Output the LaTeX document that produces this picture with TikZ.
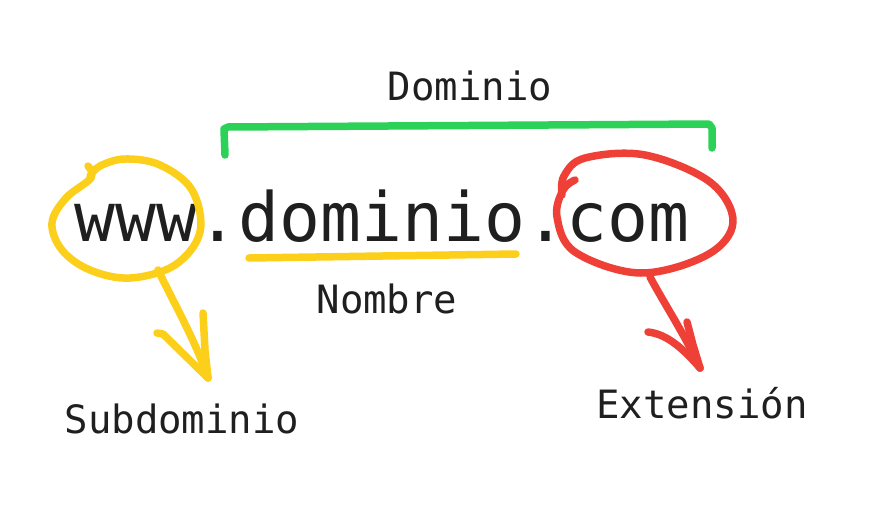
\documentclass[tikz,border=0pt]{standalone}
\usepackage{fontspec}
\usepackage{tikz}
\usepackage{xcolor}
\newfontfamily\monofont{DejaVu Sans Mono}

\definecolor{penyellow}{HTML}{FCCF1B}
\definecolor{pengreen}{HTML}{2CD158}
\definecolor{penred}{HTML}{EE4036}
\definecolor{ink}{HTML}{1F1F1F}

\tikzset{
  pen/.style={line width=7.5pt, line cap=round, line join=round},
  bigtext/.style={inner sep=0pt, anchor=base, text=ink, font=\monofont\fontsize{68}{80}\selectfont},
  labeltext/.style={inner sep=0pt, anchor=base, text=ink, font=\monofont\fontsize{39}{46}\selectfont}
}

\begin{document}
\begin{tikzpicture}[x=1pt, y=-1pt]
        \useasboundingbox (0,0) rectangle (884,511);
        % texts
        \node[bigtext] (url) at (382,241) {www.dominio.com};
        \node[labeltext] (dominio) at (470,100) {Dominio};
        \node[labeltext] (nombre) at (387,313) {Nombre};
        \node[labeltext] (sub) at (182,433) {Subdominio};
        \node[labeltext] (ext) at (702,418) {Extensión};
        % green bracket over the domain
        \draw[pen, pengreen] (225,155) -- (224,129) -- (228,127) -- (709,124) -- (712,128) -- (712,148);
        % yellow underline of the name
        \draw[pen, penyellow] (249,258) -- (516,254);
        % yellow loop round www
        \draw[pen, penyellow] plot[smooth, tension=0.6] coordinates {(88,166) (91,178) (66,198) (52,223) (62,250) (90,270) (130,278) (175,265) (200,232) (192,190) (160,165) (125,159) (100,166) (90,176)};
        \coordinate (subStart) at (158,270);
        \coordinate (subTip) at (208,378);
        \draw[pen, penyellow] (subStart) .. controls (175,305) and (195,340) .. (subTip);
        \draw[pen, penyellow] (203,313) -- (205,350) -- (subTip);
        \draw[pen, penyellow] (157,333) -- (163,334) -- (subTip);
        % red loop round com
        \draw[pen, penred] plot[smooth, tension=0.6] coordinates {(575,180) (563,190) (557,217) (575,252) (640,273) (707,255) (733,222) (710,182) (645,155) (585,158) (564,176) (562,195)};
        \coordinate (extStart) at (650,277);
        \coordinate (extTip) at (700,368);
        \draw[pen, penred] (extStart) .. controls (665,305) and (685,335) .. (extTip);
        \draw[pen, penred] (687,322) -- (693,345) -- (extTip);
        \draw[pen, penred] (648,332) .. controls (665,334) and (680,345) .. (extTip);
    \end{tikzpicture}
\end{document}
